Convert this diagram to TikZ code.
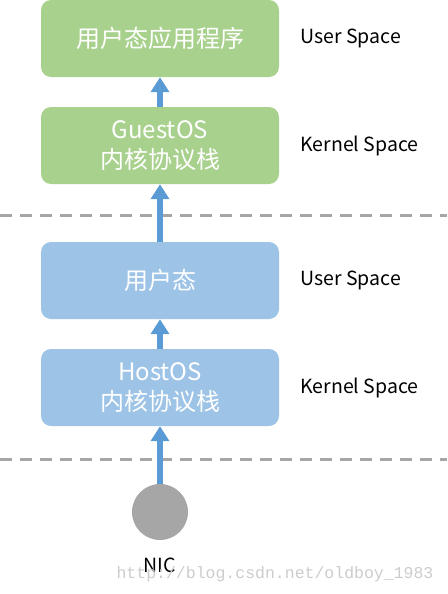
\documentclass[tikz,border=0pt]{standalone}
\usepackage{fontspec}
\setmainfont{Noto Sans CJK SC}
\newfontfamily\markfont{Liberation Mono}
\usepackage{tikz}
\usetikzlibrary{arrows.meta, positioning}
\usepackage{xcolor}
\definecolor{leafgreen}{HTML}{A9D18E}
\definecolor{skyblue}{HTML}{9DC3E6}
\definecolor{arrowblue}{HTML}{5B9BD5}
\definecolor{dashgray}{HTML}{A6A6A6}

\tikzset{
  layerbox/.style={rounded corners=10pt, minimum width=238pt, minimum height=77pt, inner sep=0pt, text=white, align=center, font=\fontsize{24}{30}\selectfont},
  guestbox/.style={layerbox, fill=leafgreen},
  hostbox/.style={layerbox, fill=skyblue},
  spacelabel/.style={anchor=west, inner sep=0pt, font=\fontsize{19.5}{22}\selectfont},
  uparrow/.style={draw=arrowblue, line width=6pt, -{Triangle[width=18pt, length=15pt]}},
  divider/.style={draw=dashgray, line width=3pt, dash pattern=on 12pt off 8pt}
}

\begin{document}
\begin{tikzpicture}[x=1pt, y=-1pt]
  \useasboundingbox (0,0) rectangle (447,594);

  % guest side
  \node[guestbox] (guestapp) at (160,38.5) {用户态应用程序};
  \node[guestbox] (gueststack) at (160,145.5) {GuestOS\\内核协议栈};

  % host side
  \node[hostbox] (hostuser) at (160,280.5) {用户态};
  \node[hostbox] (hoststack) at (160,387.5) {HostOS\\内核协议栈};

  \node[circle, fill=dashgray, minimum size=56pt, inner sep=0pt] (nic) at (160,512) {};
  \node[font=\fontsize{19.5}{22}\selectfont] (niclabel) at (160,565) {NIC};

  % space labels
  \node[spacelabel, right=21pt of guestapp] {User Space};
  \node[spacelabel, right=21pt of gueststack] {Kernel Space};
  \node[spacelabel, right=21pt of hostuser] {User Space};
  \node[spacelabel, right=21pt of hoststack] {Kernel Space};

  % borders
  \draw[divider] (0,215) -- (447,215);
  \draw[divider] (0,459) -- (447,459);

  % packet path
  \draw[uparrow] (nic.north) -- (hoststack.south);
  \draw[uparrow] (hoststack.north) -- (hostuser.south);
  \draw[uparrow] (hostuser.north) -- (gueststack.south);
  \draw[uparrow] (gueststack.north) -- (guestapp.south);

  \node[font=\markfont\fontsize{16.5}{18}\selectfont, text=black!20] (mark) at (275,574) {http://blog.csdn.net/oldboy\_1983};
\end{tikzpicture}
\end{document}
